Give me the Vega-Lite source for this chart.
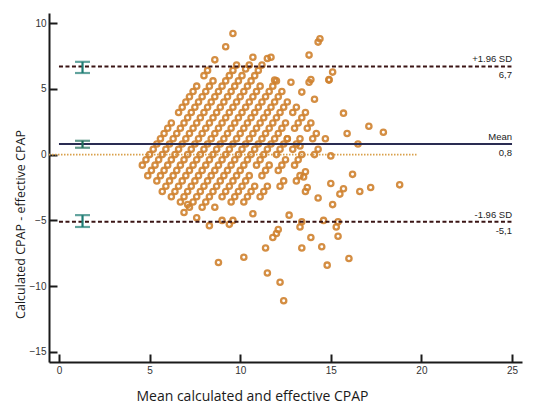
{
  "$schema": "https://vega.github.io/schema/vega-lite/v6.json",
  "description": "Bland-Altman plot: calculated vs effective CPAP.",
  "autosize": {"type": "none"},
  "padding": {"left": 49, "top": 13, "right": 15, "bottom": 49},
  "width": 473,
  "height": 349,
  "datasets": {
    "pts": [
      {"m":4.6,"d":-0.8},{"m":4.8,"d":-0.4},{"m":5.0,"d":0},{"m":5.2,"d":0.4},{"m":5.4,"d":0.8},{"m":5.6,"d":1.2},{"m":5.8,"d":1.6},{"m":6.0,"d":2.0},{"m":6.2,"d":2.4},{"m":6.6,"d":3.2},{"m":6.8,"d":3.6},{"m":7.0,"d":4.0},{"m":7.2,"d":4.4},{"m":7.4,"d":4.8},{"m":7.6,"d":5.2},{"m":8.0,"d":6.0},{"m":8.2,"d":6.4},{"m":8.6,"d":7.2},{"m":9.2,"d":8.2},{"m":9.6,"d":9.2},
      {"m":4.9,"d":-1.6},{"m":5.1,"d":-1.2},{"m":5.3,"d":-0.8},{"m":5.5,"d":-0.4},{"m":5.7,"d":0},{"m":5.9,"d":0.4},{"m":6.1,"d":0.8},{"m":6.3,"d":1.2},{"m":6.5,"d":1.6},{"m":6.7,"d":2.0},{"m":6.9,"d":2.4},{"m":7.1,"d":2.8},{"m":7.3,"d":3.2},{"m":7.5,"d":3.6},{"m":7.7,"d":4.0},{"m":7.9,"d":4.4},{"m":8.1,"d":4.8},{"m":8.3,"d":5.2},{"m":8.5,"d":5.6},
      {"m":5.4,"d":-2.0},{"m":5.6,"d":-1.6},{"m":5.8,"d":-1.2},{"m":6.0,"d":-0.8},{"m":6.2,"d":-0.4},{"m":6.4,"d":0},{"m":6.6,"d":0.4},{"m":6.8,"d":0.8},{"m":7.0,"d":1.2},{"m":7.2,"d":1.6},{"m":7.4,"d":2.0},{"m":7.6,"d":2.4},{"m":7.8,"d":2.8},{"m":8.0,"d":3.2},{"m":8.2,"d":3.6},{"m":8.4,"d":4.0},{"m":8.6,"d":4.4},{"m":8.8,"d":4.8},{"m":9.0,"d":5.2},{"m":9.2,"d":5.6},{"m":9.4,"d":6.0},{"m":9.6,"d":6.4},{"m":9.8,"d":6.8},
      {"m":5.7,"d":-2.8},{"m":5.9,"d":-2.4},{"m":6.1,"d":-2.0},{"m":6.3,"d":-1.6},{"m":6.5,"d":-1.2},{"m":6.7,"d":-0.8},{"m":6.9,"d":-0.4},{"m":7.1,"d":0},{"m":7.3,"d":0.4},{"m":7.5,"d":0.8},{"m":7.7,"d":1.2},{"m":7.9,"d":1.6},{"m":8.1,"d":2.0},{"m":8.3,"d":2.4},{"m":8.5,"d":2.8},{"m":8.7,"d":3.2},{"m":8.9,"d":3.6},{"m":9.1,"d":4.0},{"m":9.3,"d":4.4},{"m":9.5,"d":4.8},{"m":9.7,"d":5.2},{"m":9.9,"d":5.6},{"m":10.1,"d":6.0},{"m":10.5,"d":6.8},
      {"m":6.2,"d":-3.2},{"m":6.4,"d":-2.8},{"m":6.6,"d":-2.4},{"m":6.8,"d":-2.0},{"m":7.0,"d":-1.6},{"m":7.2,"d":-1.2},{"m":7.4,"d":-0.8},{"m":7.6,"d":-0.4},{"m":7.8,"d":0},{"m":8.0,"d":0.4},{"m":8.2,"d":0.8},{"m":8.4,"d":1.2},{"m":8.6,"d":1.6},{"m":8.8,"d":2.0},{"m":9.0,"d":2.4},{"m":9.2,"d":2.8},{"m":9.4,"d":3.2},{"m":9.6,"d":3.6},{"m":9.8,"d":4.0},{"m":10.0,"d":4.4},{"m":10.2,"d":4.8},{"m":10.4,"d":5.2},{"m":10.6,"d":5.6},{"m":10.8,"d":6.0},{"m":11.0,"d":6.4},{"m":11.2,"d":6.8},
      {"m":6.7,"d":-3.6},{"m":6.9,"d":-3.2},{"m":7.1,"d":-2.8},{"m":7.3,"d":-2.4},{"m":7.5,"d":-2.0},{"m":7.7,"d":-1.6},{"m":7.9,"d":-1.2},{"m":8.1,"d":-0.8},{"m":8.3,"d":-0.4},{"m":8.5,"d":0},{"m":8.7,"d":0.4},{"m":8.9,"d":0.8},{"m":9.1,"d":1.2},{"m":9.3,"d":1.6},{"m":9.5,"d":2.0},{"m":9.7,"d":2.4},{"m":9.9,"d":2.8},{"m":10.1,"d":3.2},{"m":10.3,"d":3.6},{"m":10.5,"d":4.0},{"m":10.7,"d":4.4},{"m":10.9,"d":4.8},{"m":11.1,"d":5.2},
      {"m":7.2,"d":-4.0},{"m":7.4,"d":-3.6},{"m":7.6,"d":-3.2},{"m":7.8,"d":-2.8},{"m":8.0,"d":-2.4},{"m":8.2,"d":-2.0},{"m":8.4,"d":-1.6},{"m":8.6,"d":-1.2},{"m":8.8,"d":-0.8},{"m":9.0,"d":-0.4},{"m":9.2,"d":0},{"m":9.4,"d":0.4},{"m":9.6,"d":0.8},{"m":9.8,"d":1.2},{"m":10.0,"d":1.6},{"m":10.2,"d":2.0},{"m":10.4,"d":2.4},{"m":10.6,"d":2.8},{"m":10.8,"d":3.2},{"m":11.0,"d":3.6},{"m":11.2,"d":4.0},{"m":11.4,"d":4.4},{"m":11.6,"d":4.8},{"m":11.8,"d":5.2},{"m":12.0,"d":5.6},
      {"m":7.9,"d":-4.0},{"m":8.1,"d":-3.6},{"m":8.3,"d":-3.2},{"m":8.5,"d":-2.8},{"m":8.7,"d":-2.4},{"m":8.9,"d":-2.0},{"m":9.1,"d":-1.6},{"m":9.3,"d":-1.2},{"m":9.5,"d":-0.8},{"m":9.7,"d":-0.4},{"m":9.9,"d":0},{"m":10.1,"d":0.4},{"m":10.3,"d":0.8},{"m":10.5,"d":1.2},{"m":10.7,"d":1.6},{"m":10.9,"d":2.0},{"m":11.1,"d":2.4},{"m":11.3,"d":2.8},{"m":11.5,"d":3.2},{"m":11.7,"d":3.6},{"m":11.9,"d":4.0},{"m":12.1,"d":4.4},{"m":12.3,"d":4.8},
      {"m":8.6,"d":-4.0},{"m":9.0,"d":-3.2},{"m":9.2,"d":-2.8},{"m":9.4,"d":-2.4},{"m":9.6,"d":-2.0},{"m":9.8,"d":-1.6},{"m":10.0,"d":-1.2},{"m":10.2,"d":-0.8},{"m":10.4,"d":-0.4},{"m":10.6,"d":0},{"m":10.8,"d":0.4},{"m":11.0,"d":0.8},{"m":11.2,"d":1.2},{"m":11.4,"d":1.6},{"m":11.6,"d":2.0},{"m":11.8,"d":2.4},{"m":12.0,"d":2.8},{"m":12.2,"d":3.2},{"m":12.4,"d":3.6},{"m":12.6,"d":4.0},
      {"m":9.5,"d":-3.6},{"m":9.7,"d":-3.2},{"m":9.9,"d":-2.8},{"m":10.1,"d":-2.4},{"m":10.3,"d":-2.0},{"m":10.5,"d":-1.6},{"m":10.9,"d":-0.8},{"m":11.1,"d":-0.4},{"m":11.3,"d":0},{"m":11.5,"d":0.4},{"m":11.7,"d":0.8},{"m":11.9,"d":1.2},{"m":12.1,"d":1.6},{"m":12.3,"d":2.0},{"m":12.5,"d":2.4},{"m":12.9,"d":3.2},{"m":13.1,"d":3.6},
      {"m":10.2,"d":-3.6},{"m":10.4,"d":-3.2},{"m":10.6,"d":-2.8},{"m":10.8,"d":-2.4},{"m":11.2,"d":-1.6},{"m":11.4,"d":-1.2},{"m":11.6,"d":-0.8},{"m":12.0,"d":0},{"m":12.2,"d":0.4},{"m":12.4,"d":0.8},{"m":12.6,"d":1.2},{"m":13.0,"d":2.0},{"m":13.2,"d":2.4},{"m":13.4,"d":2.8},{"m":13.6,"d":3.2},
      {"m":11.1,"d":-3.2},{"m":11.3,"d":-2.8},{"m":11.5,"d":-2.4},{"m":12.1,"d":-1.2},{"m":12.3,"d":-0.8},{"m":12.5,"d":-0.4},{"m":12.9,"d":0.4},{"m":13.1,"d":0.8},{"m":13.3,"d":1.2},{"m":13.7,"d":2.0},{"m":13.9,"d":2.4},
      {"m":12.2,"d":-2.4},{"m":12.4,"d":-2.0},{"m":13.0,"d":-0.8},{"m":13.2,"d":-0.4},{"m":13.4,"d":0},{"m":14.0,"d":1.2},{"m":14.2,"d":1.6},
      {"m":13.1,"d":-2.0},{"m":13.3,"d":-1.6},{"m":14.1,"d":0},{"m":14.3,"d":0.4},{"m":14.7,"d":1.2},
      {"m":14.3,"d":8.55},{"m":14.4,"d":8.8},{"m":13.8,"d":7.56},{"m":15.1,"d":6.27},{"m":14.9,"d":5.66},{"m":13.8,"d":5.5},{"m":13.9,"d":5.7},{"m":12.8,"d":5.5},{"m":11.9,"d":5.66},{"m":14.1,"d":4.2},{"m":13.4,"d":4.75},
      {"m":15.7,"d":3.15},{"m":15.9,"d":1.6},{"m":17.1,"d":2.16},{"m":17.9,"d":1.7},{"m":16.5,"d":0.8},{"m":15,"d":-0.1},{"m":16.2,"d":-1.5},{"m":15,"d":-2.2},{"m":15.5,"d":-3},{"m":15.7,"d":-2.6},
      {"m":16.6,"d":-2.8},{"m":17.2,"d":-2.5},{"m":18.8,"d":-2.3},{"m":13.5,"d":-1.7},{"m":13.6,"d":-1.3},{"m":14.3,"d":-3.3},{"m":15.1,"d":-3.8},{"m":13.7,"d":-2.5},{"m":13.6,"d":-2.8},
      {"m":12.7,"d":-4.6},{"m":13.4,"d":-5.1},{"m":13.3,"d":-5.5},{"m":14.6,"d":-5},{"m":15.4,"d":-5.1},{"m":15.3,"d":-5.5},{"m":15.4,"d":-6.2},{"m":13.9,"d":-6.3},{"m":13.4,"d":-7.1},{"m":14.5,"d":-7},
      {"m":16,"d":-7.9},{"m":14.8,"d":-8.4},{"m":12.1,"d":-5.7},{"m":12,"d":-6},{"m":11.8,"d":-6.3},{"m":11.4,"d":-7.1},{"m":10.2,"d":-7.8},{"m":11.5,"d":-9},{"m":12.2,"d":-9.7},{"m":12.4,"d":-11.1},
      {"m":10.7,"d":-4.5},{"m":9.6,"d":-5},{"m":8.8,"d":-8.2},{"m":7.6,"d":-4.8},{"m":8.3,"d":-5.4},{"m":9,"d":-5},{"m":9.4,"d":-5.3},{"m":6.9,"d":-4.4},{"m":7.1,"d":-3.8},
      {"m":10.7,"d":7.4},{"m":11.5,"d":7.3},{"m":11.7,"d":7.4},{"m":10.3,"d":6.5},{"m":12.6,"d":1.2},{"m":13.3,"d":0.65},{"m":14.9,"d":5.7}
    ],
    "lims": [
      {"kind":"upper","v":6.7,"x0":0,"x1":25,"top":"+1.96 SD","val":"6,7"},
      {"kind":"mean","v":0.8,"x0":0,"x1":25,"top":"Mean","val":"0,8"},
      {"kind":"lower","v":-5.1,"x0":0,"x1":25,"top":"-1.96 SD","val":"-5,1"}
    ],
    "ci": [
      {"kind":"ci upper","x":1.3,"lo":6.2,"hi":7.05},
      {"kind":"ci mean","x":1.3,"lo":0.52,"hi":1.05},
      {"kind":"ci lower","x":1.3,"lo":-5.5,"hi":-4.6}
    ],
    "zero": [{"x0":-0.55,"x1":19.8,"v":0}]
  },
  "layer": [
    {
      "data": {"name": "zero"},
      "mark": {"type": "rule", "color": "#d9a04a", "strokeWidth": 1.6, "strokeDash": [1.5, 1.5]},
      "encoding": {
        "x": {"field": "x0", "type": "quantitative"},
        "x2": {"field": "x1"},
        "y": {"field": "v", "type": "quantitative"}
      }
    },
    {
      "data": {"name": "pts"},
      "mark": {"type": "point", "shape": "circle", "filled": false, "size": 28, "strokeWidth": 2.3, "color": "#d0822f", "opacity": 0.9},
      "encoding": {
        "x": {
          "field": "m", "type": "quantitative",
          "scale": {"domain": [-0.55, 25.55], "nice": false, "zero": false},
          "axis": {"values": [0, 5, 10, 15, 20, 25], "title": "Mean calculated and effective CPAP", "titleX": 203, "titleY": 27, "titleFontSize": 14, "labelPadding": 11}
        },
        "y": {
          "field": "d", "type": "quantitative",
          "scale": {"domain": [-15.76, 10.76], "nice": false, "zero": false},
          "axis": {"values": [-15, -10, -5, 0, 5, 10], "title": "Calculated CPAP - effective CPAP", "titleX": -22, "titleY": 211, "titleFontSize": 12.5, "labelPadding": 11}
        }
      }
    },
    {
      "data": {"name": "lims"},
      "mark": {"type": "rule", "strokeWidth": 2},
      "encoding": {
        "x": {"field": "x0", "type": "quantitative"},
        "x2": {"field": "x1"},
        "y": {"field": "v", "type": "quantitative"},
        "color": {"field": "kind", "type": "nominal", "legend": null,
          "scale": {"domain": ["upper", "mean", "lower", "ci upper", "ci mean", "ci lower"], "range": ["#3a1414", "#2a2c52", "#3a1414", "#1e7c74", "#1f6d58", "#1e7c74"]}},
        "strokeDash": {"field": "kind", "type": "nominal", "legend": null,
          "scale": {"domain": ["upper", "mean", "lower"], "range": [[4, 2.5], [1, 0], [4, 2.5]]}}
      }
    },
    {
      "data": {"name": "ci"},
      "mark": {"type": "rule", "strokeWidth": 2.2},
      "encoding": {
        "x": {"field": "x", "type": "quantitative"},
        "y": {"field": "lo", "type": "quantitative"},
        "y2": {"field": "hi"},
        "color": {"field": "kind", "type": "nominal", "legend": null}
      }
    },
    {
      "data": {"name": "ci"},
      "mark": {"type": "tick", "orient": "horizontal", "size": 15, "thickness": 2.2},
      "encoding": {
        "x": {"field": "x", "type": "quantitative"},
        "y": {"field": "lo", "type": "quantitative"},
        "color": {"field": "kind", "type": "nominal", "legend": null}
      }
    },
    {
      "data": {"name": "ci"},
      "mark": {"type": "tick", "orient": "horizontal", "size": 15, "thickness": 2.2},
      "encoding": {
        "x": {"field": "x", "type": "quantitative"},
        "y": {"field": "hi", "type": "quantitative"},
        "color": {"field": "kind", "type": "nominal", "legend": null}
      }
    },
    {
      "data": {"name": "lims"},
      "mark": {"type": "text", "align": "right", "baseline": "bottom", "dy": -2, "fontSize": 9.5, "font": "Liberation Sans", "color": "#222"},
      "encoding": {
        "x": {"field": "x1", "type": "quantitative"},
        "y": {"field": "v", "type": "quantitative"},
        "text": {"field": "top"}
      }
    },
    {
      "data": {"name": "lims"},
      "mark": {"type": "text", "align": "right", "baseline": "top", "dy": 4, "fontSize": 9.5, "font": "Liberation Sans", "color": "#222"},
      "encoding": {
        "x": {"field": "x1", "type": "quantitative"},
        "y": {"field": "v", "type": "quantitative"},
        "text": {"field": "val"}
      }
    }
  ],
  "config": {
    "view": {"stroke": null},
    "axis": {
      "grid": false,
      "domainColor": "#1a1a1a",
      "domainWidth": 2,
      "tickColor": "#1a1a1a",
      "tickWidth": 2,
      "tickSize": -8,
      "labelFont": "Liberation Sans",
      "labelFontSize": 10,
      "labelColor": "#333",
      "titleFont": "Open Sans",
      "titleFontWeight": "normal",
      "titleColor": "#1a1a1a"
    }
  }
}
